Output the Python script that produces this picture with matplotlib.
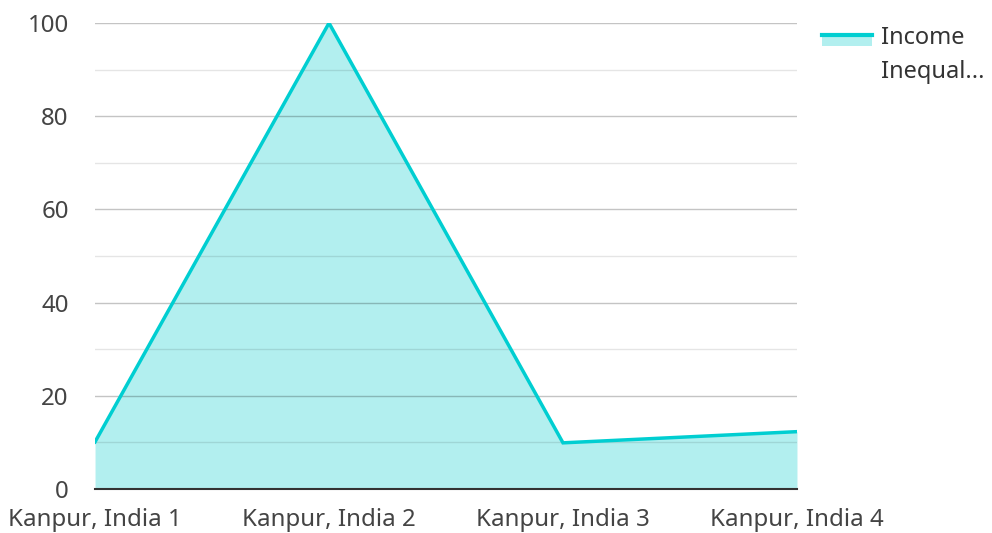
import matplotlib.pyplot as plt
from matplotlib.legend_handler import HandlerBase
from matplotlib.lines import Line2D
from matplotlib.patches import Rectangle
import numpy as np

plt.rcParams['font.family'] = ['Noto Sans', 'DejaVu Sans']

categories = ["Kanpur, India 1", "Kanpur, India 2", "Kanpur, India 3", "Kanpur, India 4"]
values = [10.1, 100, 9.9, 12.3]
series_name = "Income\nInequal..."

line_color = '#00CED1'
fill_color = '#B2EFEF'


class LineFillHandler(HandlerBase):
    def create_artists(self, legend, orig_handle, xdescent, ydescent,
                       width, height, fontsize, trans):
        top = ydescent + height * 1.75
        rect = Rectangle((-xdescent, top - height * 0.68), width, height * 0.68,
                         facecolor=fill_color, edgecolor='none', transform=trans)
        line = Line2D([-xdescent, -xdescent + width], [top, top],
                      color=line_color, lw=3, transform=trans)
        return [rect, line]


fig = plt.figure(figsize=(9.92, 5.33), dpi=100)
ax = fig.add_axes([0.0958, 0.0826, 0.7076, 0.8742])

xs = np.arange(len(categories))
ax.fill_between(xs, values, 0, color=fill_color, lw=0, zorder=1)
ln, = ax.plot(xs, values, color=line_color, lw=2.5, zorder=3,
              solid_joinstyle='miter')

ax.set_xlim(0, len(categories) - 1)
ax.set_ylim(0, 100)
ax.set_yticks(np.arange(0, 101, 20))
ax.set_yticks(np.arange(10, 100, 20), minor=True)
ax.set_xticks(xs)
ax.set_xticklabels(categories)

ax.grid(axis='y', which='major', color='black', alpha=0.23, lw=1, zorder=2)
ax.grid(axis='y', which='minor', color='black', alpha=0.1, lw=1, zorder=2)
ax.set_axisbelow(False)

for side in ['top', 'right', 'left']:
    ax.spines[side].set_visible(False)
ax.spines['bottom'].set_color('#333333')
ax.spines['bottom'].set_linewidth(1.5)
ax.spines['bottom'].set_zorder(4)

ax.tick_params(axis='both', which='both', length=0, labelsize=17.3,
               labelcolor='#444444')
ax.tick_params(axis='y', pad=19)
ax.tick_params(axis='x', pad=14)

leg = fig.legend([ln], [series_name], handler_map={Line2D: LineFillHandler()},
                 loc='upper left', bbox_to_anchor=(0.829, 0.951), frameon=False,
                 fontsize=17, handlelength=2.1, handletextpad=0.38,
                 labelcolor='#333333', borderpad=0, borderaxespad=0)
for t in leg.get_texts():
    t.set_linespacing(1.55)

fig.savefig('out.png', dpi=100)
